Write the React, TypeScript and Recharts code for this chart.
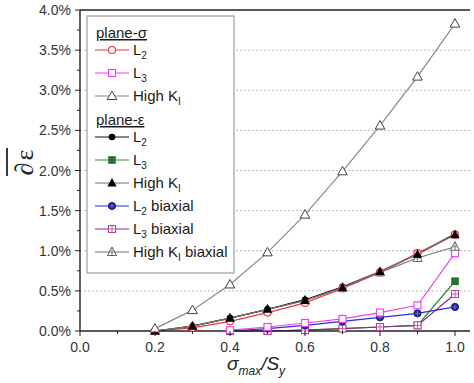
import { LineChart, Line, XAxis, YAxis, ReferenceLine, Label } from 'recharts';

// x positions (sigma_max / S_y)
const xValues = [0.2, 0.3, 0.4, 0.5, 0.6, 0.7, 0.8, 0.9, 1.0];

// plane-sigma series (% strain)
const sigmaL2 = [0, 0.04, 0.12, 0.23, 0.35, 0.53, 0.73, 0.97, 1.2];
const sigmaL3 = [null, null, 0.01, 0.05, 0.1, 0.15, 0.23, 0.32, 0.97];
const sigmaHighK = [0.03, 0.26, 0.58, 0.98, 1.45, 1.99, 2.56, 3.17, 3.83];

// plane-epsilon series (% strain)
const epsL2 = [0, 0.06, 0.16, 0.27, 0.39, 0.55, 0.74, 0.96, 1.21];
const epsL3 = [null, null, 0, 0, 0.01, 0.03, 0.05, 0.07, 0.62];
const epsHighK = [0, 0.06, 0.16, 0.27, 0.38, 0.54, 0.74, 0.955, 1.2];
const epsL2Biaxial = [null, null, 0, 0.03, 0.07, 0.12, 0.17, 0.22, 0.3];
const epsL3Biaxial = [null, null, 0, 0, 0.01, 0.03, 0.05, 0.07, 0.46];
const epsHighKBiaxial = [0, 0.06, 0.16, 0.27, 0.38, 0.54, 0.73, 0.91, 1.05];

const yTicks = [0, 0.25, 0.5, 0.75, 1, 1.25, 1.5, 1.75, 2, 2.25, 2.5, 2.75, 3, 3.25, 3.5, 3.75, 4];
const xTicks = [0, 0.1, 0.2, 0.3, 0.4, 0.5, 0.6, 0.7, 0.8, 0.9, 1.0];
const gridValues = [0.5, 1, 1.5, 2, 2.5, 3, 3.5];

type MarkerKind =
  | 'openCircle' | 'openSquare' | 'openTriangle'
  | 'filledCircle' | 'filledSquare' | 'filledTriangle'
  | 'circlePlus' | 'squarePlus' | 'triangleStar';

interface Series {
  key: string;
  values: (number | null)[];
  color: string;
  markerColor: string;
  marker: MarkerKind;
  label: string;
  sub: string;
  suffix: string;
}

const sigmaSeries: Series[] = [
  { key: 'sL2', values: sigmaL2, color: '#ee3344', markerColor: '#ee3344', marker: 'openCircle', label: 'L', sub: '2', suffix: '' },
  { key: 'sL3', values: sigmaL3, color: '#f040f0', markerColor: '#f040f0', marker: 'openSquare', label: 'L', sub: '3', suffix: '' },
  { key: 'sHK', values: sigmaHighK, color: '#888888', markerColor: '#444444', marker: 'openTriangle', label: 'High K', sub: 'I', suffix: '' },
];

const epsSeries: Series[] = [
  { key: 'eL2', values: epsL2, color: '#111111', markerColor: '#000000', marker: 'filledCircle', label: 'L', sub: '2', suffix: '' },
  { key: 'eL3', values: epsL3, color: '#2e8b2e', markerColor: '#2a6e2a', marker: 'filledSquare', label: 'L', sub: '3', suffix: '' },
  { key: 'eHK', values: epsHighK, color: '#777777', markerColor: '#000000', marker: 'filledTriangle', label: 'High K', sub: 'I', suffix: '' },
  { key: 'eL2b', values: epsL2Biaxial, color: '#2a2ae0', markerColor: '#1e1e8c', marker: 'circlePlus', label: 'L', sub: '2', suffix: ' biaxial' },
  { key: 'eL3b', values: epsL3Biaxial, color: '#8a2a8a', markerColor: '#b04090', marker: 'squarePlus', label: 'L', sub: '3', suffix: ' biaxial' },
  { key: 'eHKb', values: epsHighKBiaxial, color: '#777777', markerColor: '#666666', marker: 'triangleStar', label: 'High K', sub: 'I', suffix: ' biaxial' },
];

const chartData = xValues.map((x, i) => {
  const row: Record<string, number | null> = { x };
  [...sigmaSeries, ...epsSeries].forEach((s) => {
    row[s.key] = s.values[i];
  });
  return row;
});

// drawing order (later on top)
const drawOrder = ['eL3', 'eL3b', 'eL2b', 'sL3', 'eHKb', 'eL2', 'sL2', 'eHK', 'sHK'];

function Marker({ kind, color, cx, cy }: { kind: MarkerKind; color: string; cx: number; cy: number }) {
  switch (kind) {
    case 'openCircle':
      return <circle cx={cx} cy={cy} r={3.5} fill="#fff" stroke={color} strokeWidth={1.2} />;
    case 'openSquare':
      return <rect x={cx - 3.5} y={cy - 3.5} width={7} height={7} fill="#fff" stroke={color} strokeWidth={1.2} />;
    case 'openTriangle':
      return (
        <polygon
          points={`${cx},${cy - 5} ${cx + 4.8},${cy + 3.5} ${cx - 4.8},${cy + 3.5}`}
          fill="#fff"
          stroke={color}
          strokeWidth={1}
        />
      );
    case 'filledCircle':
      return <circle cx={cx} cy={cy} r={3.3} fill={color} />;
    case 'filledSquare':
      return <rect x={cx - 3.8} y={cy - 3.8} width={7.6} height={7.6} fill={color} />;
    case 'filledTriangle':
      return <polygon points={`${cx},${cy - 5} ${cx + 4.6},${cy + 3.5} ${cx - 4.6},${cy + 3.5}`} fill={color} />;
    case 'circlePlus':
      return (
        <g>
          <circle cx={cx} cy={cy} r={3.6} fill={color} stroke={color} strokeWidth={1} />
          <line x1={cx - 2.5} x2={cx + 2.5} y1={cy} y2={cy} stroke="#8a8af0" strokeWidth={0.7} />
          <line x1={cx} x2={cx} y1={cy - 2.5} y2={cy + 2.5} stroke="#8a8af0" strokeWidth={0.7} />
        </g>
      );
    case 'squarePlus':
      return (
        <g>
          <rect x={cx - 3.5} y={cy - 3.5} width={7} height={7} fill="#fff" stroke={color} strokeWidth={1} />
          <line x1={cx - 3.5} x2={cx + 3.5} y1={cy} y2={cy} stroke={color} strokeWidth={0.8} />
          <line x1={cx} x2={cx} y1={cy - 3.5} y2={cy + 3.5} stroke={color} strokeWidth={0.8} />
        </g>
      );
    case 'triangleStar':
      return (
        <g>
          <polygon
            points={`${cx},${cy - 5} ${cx + 4.6},${cy + 3.5} ${cx - 4.6},${cy + 3.5}`}
            fill="#fff"
            stroke={color}
            strokeWidth={1}
          />
          <line x1={cx} x2={cx} y1={cy - 5} y2={cy + 3.5} stroke={color} strokeWidth={0.8} />
          <line x1={cx - 3} x2={cx + 3} y1={cy} y2={cy} stroke={color} strokeWidth={0.8} />
        </g>
      );
    default:
      return null;
  }
}

const YTick = (props: any) => {
  const { x, y, payload } = props;
  const v = payload.value;
  const major = Math.abs(v * 2 - Math.round(v * 2)) < 1e-6;
  return (
    <g>
      <line x1={x} x2={x - (major ? 5 : 3)} y1={y} y2={y} stroke="#222" strokeWidth={1} />
      {major && (
        <text x={x - 9} y={y} dy={5} textAnchor="end" fontSize={14} fill="#333" fontFamily="Liberation Sans, Arial, sans-serif">
          {v.toFixed(1)}%
        </text>
      )}
    </g>
  );
};

const XTick = (props: any) => {
  const { x, y, payload } = props;
  const v = payload.value;
  const major = Math.round(v * 10) % 2 === 0;
  return (
    <g>
      <line x1={x} x2={x} y1={y} y2={y + (major ? 5 : 3)} stroke="#222" strokeWidth={1} />
      {major && (
        <text x={x} y={y} dy={21} textAnchor="middle" fontSize={14} fill="#333" fontFamily="Liberation Sans, Arial, sans-serif">
          {v.toFixed(1)}
        </text>
      )}
    </g>
  );
};

const XTitle = () => (
  <text x={227} y={370} fontSize={19} fontStyle="italic" fill="#222" fontFamily="Liberation Sans, Arial, sans-serif">
    <tspan>σ</tspan>
    <tspan fontSize={12} dy={5}>max</tspan>
    <tspan dy={-5}>/S</tspan>
    <tspan fontSize={12} dy={5}>y</tspan>
  </text>
);

const YTitle = () => (
  <g transform="translate(33,165) rotate(-90)" fill="#222" fontFamily="Liberation Serif, DejaVu Serif, serif">
    <text x={-4} y={0} fontSize={26} textAnchor="middle">∂</text>
    <text x={10} y={0} fontSize={26} textAnchor="middle">ε</text>
    <line x1={-11} x2={17} y1={-26} y2={-26} stroke="#222" strokeWidth={1.8} />
  </g>
);

function LegendBox() {
  const rows: { type: 'head' | 'item'; text?: string; s?: Series }[] = [
    { type: 'head', text: 'plane-σ' },
    ...sigmaSeries.map((s) => ({ type: 'item' as const, s })),
    { type: 'head', text: 'plane-ε' },
    ...epsSeries.map((s) => ({ type: 'item' as const, s })),
  ];
  let y = 0;
  let prev: string | null = null;
  const placed = rows.map((r) => {
    if (prev === null) y = 33;
    else if (r.type === 'item' && prev === 'head') y += 17;
    else if (r.type === 'head') y += 24;
    else y += 23;
    prev = r.type;
    return { ...r, y };
  });
  return (
    <svg width={474} height={383} style={{ position: 'absolute', left: 0, top: 0, pointerEvents: 'none' }}>
      <rect x={87} y={16} width={147} height={257} fill="#fff" stroke="#888" strokeWidth={1} />
      <g fontFamily="Liberation Sans, Arial, sans-serif" fill="#1a1a1a">
        {placed.map((r, i) =>
          r.type === 'head' ? (
            <text key={i} x={96} y={r.y + 5} fontSize={15} textDecoration="underline">
              {r.text}
            </text>
          ) : (
            <g key={i}>
              <line x1={95} x2={129} y1={r.y} y2={r.y} stroke={r.s!.color} strokeWidth={1.2} />
              <Marker kind={r.s!.marker} color={r.s!.markerColor} cx={112} cy={r.y} />
              <text x={133} y={r.y + 5} fontSize={15}>
                {r.s!.label}
                <tspan fontSize={10} dy={4}>{r.s!.sub}</tspan>
                <tspan dy={-4}>{r.s!.suffix}</tspan>
              </text>
            </g>
          ),
        )}
      </g>
    </svg>
  );
}

export default function App() {
  const all = [...sigmaSeries, ...epsSeries];
  const ordered = drawOrder.map((k) => all.find((s) => s.key === k)!);
  return (
    <div style={{ position: 'absolute', left: 0, top: 0, width: 474, height: 383, background: '#fff' }}>
      <LineChart width={474} height={383} data={chartData} margin={{ top: 10, right: 4, bottom: 0, left: 0 }}>
        {gridValues.map((g) => (
          <ReferenceLine key={g} y={g} stroke="#b8b8b8" strokeDasharray="2 2" strokeWidth={1} />
        ))}
        <ReferenceLine y={4} stroke="#222" strokeWidth={1.6} />
        <XAxis
          dataKey="x"
          type="number"
          domain={[0, 1.04]}
          ticks={xTicks}
          interval={0}
          tickSize={0}
          tickMargin={0}
          tickLine={false}
          tick={<XTick />}
          height={52}
          stroke="#222"
          strokeWidth={1.4}
        >
          <Label content={<XTitle />} />
        </XAxis>
        <YAxis
          type="number"
          domain={[0, 4]}
          ticks={yTicks}
          interval={0}
          tickSize={0}
          tickMargin={0}
          tickLine={false}
          tick={<YTick />}
          width={80}
          stroke="#222"
          strokeWidth={1.4}
        >
          <Label content={<YTitle />} />
        </YAxis>
        {ordered.map((s) => (
          <Line
            key={s.key}
            dataKey={s.key}
            type="linear"
            stroke={s.color}
            strokeWidth={1.2}
            isAnimationActive={false}
            connectNulls={false}
            dot={(p: any) =>
              p.cy == null || p.value == null ? (
                <g key={`${s.key}-${p.index}`} />
              ) : (
                <g key={`${s.key}-${p.index}`}>
                  <Marker kind={s.marker} color={s.markerColor} cx={p.cx} cy={p.cy} />
                </g>
              )
            }
            activeDot={false}
          />
        ))}
      </LineChart>
      <LegendBox />
    </div>
  );
}
